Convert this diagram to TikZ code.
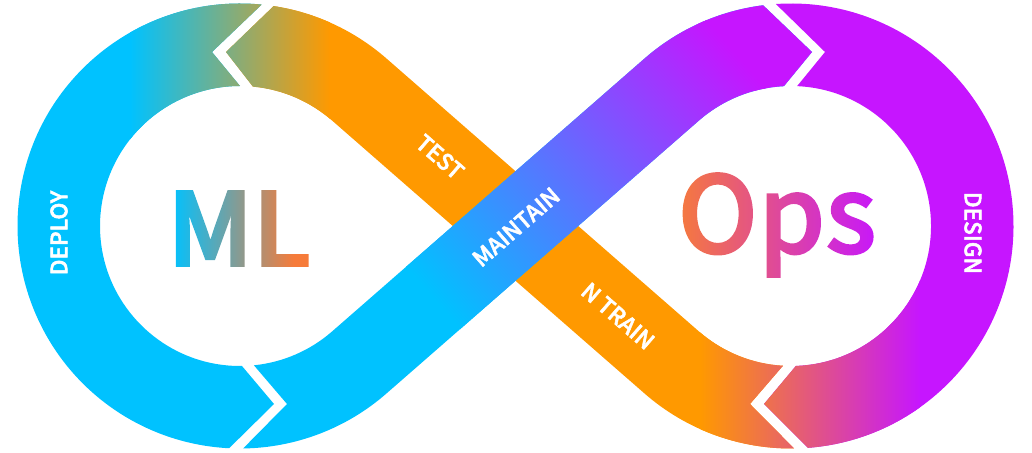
\documentclass[tikz,border=0pt]{standalone}
\usepackage{fontspec}
\usetikzlibrary{calc,fadings}
\newfontfamily\labfont{Noto Sans CJK SC Medium}
\newcommand\strk[2]{\special{pdf:code 2 Tr #1 w}#2\special{pdf:code 0 Tr 1 w}}
\definecolor{bl}{HTML}{00C2FF}
\definecolor{og}{HTML}{FF9900}
\definecolor{pu}{HTML}{C615FF}
\definecolor{tg}{HTML}{F67B3A}
\begin{tikzfadingfrompicture}[name=mlfade,x=1pt,y=1pt]
\node[text=transparent!0,inner sep=0,anchor=base] at (0,0) {\fontsize{103}{103}\labfont\strk{3}{ML}};
\end{tikzfadingfrompicture}
\begin{tikzfadingfrompicture}[name=opsfade,x=1pt,y=1pt]
\node[text=transparent!0,inner sep=0,anchor=base] at (0,0) {\fontsize{107}{107}\labfont\strk{1.6}{Ops}};
\end{tikzfadingfrompicture}
\pgfdeclarehorizontalshading{mntgrad}{1200bp}{color(0bp)=(bl); color(388bp)=(pu)}
\pgfdeclarehorizontalshading{mlgrad}{100bp}{color(0bp)=(bl); color(27bp)=(bl); color(68bp)=(tg); color(100bp)=(tg)}
\tikzset{
  lab/.style={text=white,font=\fontsize{22.5}{22.5}\labfont,inner sep=0},
}
\begin{document}
\begin{tikzpicture}[x=1pt,y=1pt]
\useasboundingbox (0,0) rectangle (1032,452);
\coordinate (L) at (240,226);
\coordinate (R) at (791,226);
\def\ri{140}\def\ro{222.5}
% TEST / TRAIN
\begin{scope}
\clip ($(R)+(266.7:\ri)$) arc[start angle=266.7,end angle=228.93,radius=\ri]
  -- ($(L)+(48.93:\ro)$) arc[start angle=48.93,end angle=81.3,radius=\ro]
  -- (226,400) -- ($(L)+(84.7:\ri)$) arc[start angle=84.7,end angle=48.93,radius=\ri]
  -- ($(R)+(228.93:\ro)$) arc[start angle=228.93,end angle=270.8,radius=\ro]
  -- (750,48) -- cycle;
\fill[og] (0,0) rectangle (1032,452);
\shade[left color=bl,right color=og] (130,226) rectangle (330,452);
\shade[left color=og,right color=pu] (700,0) rectangle (920,226);
\end{scope}
% DEPLOY
\begin{scope}
\clip ($(L)+(90:\ri)$) -- (212,400) -- ($(L)+(84.4:\ro)$)
  arc[start angle=84.4,end angle=267.2,radius=\ro]
  -- (274,48) -- ($(L)+(270.8:\ri)$)
  arc[start angle=270.8,end angle=90,radius=\ri] -- cycle;
\fill[bl] (0,0) rectangle (1032,452);
\shade[left color=bl,right color=og] (130,226) rectangle (330,452);
\end{scope}
% DESIGN
\begin{scope}
\clip ($(R)+(93.9:\ro)$) arc[start angle=93.9,end angle=-85.6,radius=\ro]
  -- (764,48) -- ($(R)+(-88:\ri)$)
  arc[start angle=-88,end angle=87.5,radius=\ri]
  -- (825,400) -- cycle;
\fill[pu] (0,0) rectangle (1032,452);
\shade[left color=og,right color=pu] (700,0) rectangle (920,226);
\end{scope}
% MAINTAIN
\begin{scope}
\clip ($(L)+(275.7:\ri)$) arc[start angle=275.7,end angle=311.07,radius=\ri]
  -- ($(R)+(131.07:\ro)$) arc[start angle=131.07,end angle=97.2,radius=\ro]
  -- (812,400) -- ($(R)+(92.9:\ri)$) arc[start angle=92.9,end angle=131.07,radius=\ri]
  -- ($(L)+(311.07:\ro)$) arc[start angle=311.07,end angle=270.8,radius=\ro]
  -- (287,48) -- cycle;
\fill[bl] (0,0) rectangle (1032,452);
\fill[pu,rotate around={41.07:(515.5,226)}] (785,-600) rectangle (1600,1000);
\node[inner sep=0,outer sep=0,rotate=41.07] (mntshade) at ($(515.5,226)+(41.07:85)$) {\pgfuseshading{mntgrad}};
\end{scope}
% Labels
\node[lab,rotate=90] (deploy) at (59,219) {\strk{0.5}{DEPLOY}};
\node[lab,rotate=-90] (design) at (973,219) {\strk{0.5}{DESIGN}};
\node[lab,rotate=-41] (test) at (440,295) {\strk{0.5}{TEST}};
\node[lab,rotate=41] (maintain) at (516,225) {\strk{0.5}{MAINTAIN}};
\node[lab,rotate=-41] (ntrain) at (618,136) {\strk{0.5}{N TRAIN}};
% Title words
\shade[path fading=mlfade,fit fading=false,fading transform={shift={(239,224)}},shading=mlgrad,shading angle=0] (165,170) rectangle (315,280);
\shade[path fading=opsfade,fit fading=false,fading transform={shift={(777,227)}},left color=tg,right color=pu] (675,160) rectangle (882,300);
\end{tikzpicture}
\end{document}
